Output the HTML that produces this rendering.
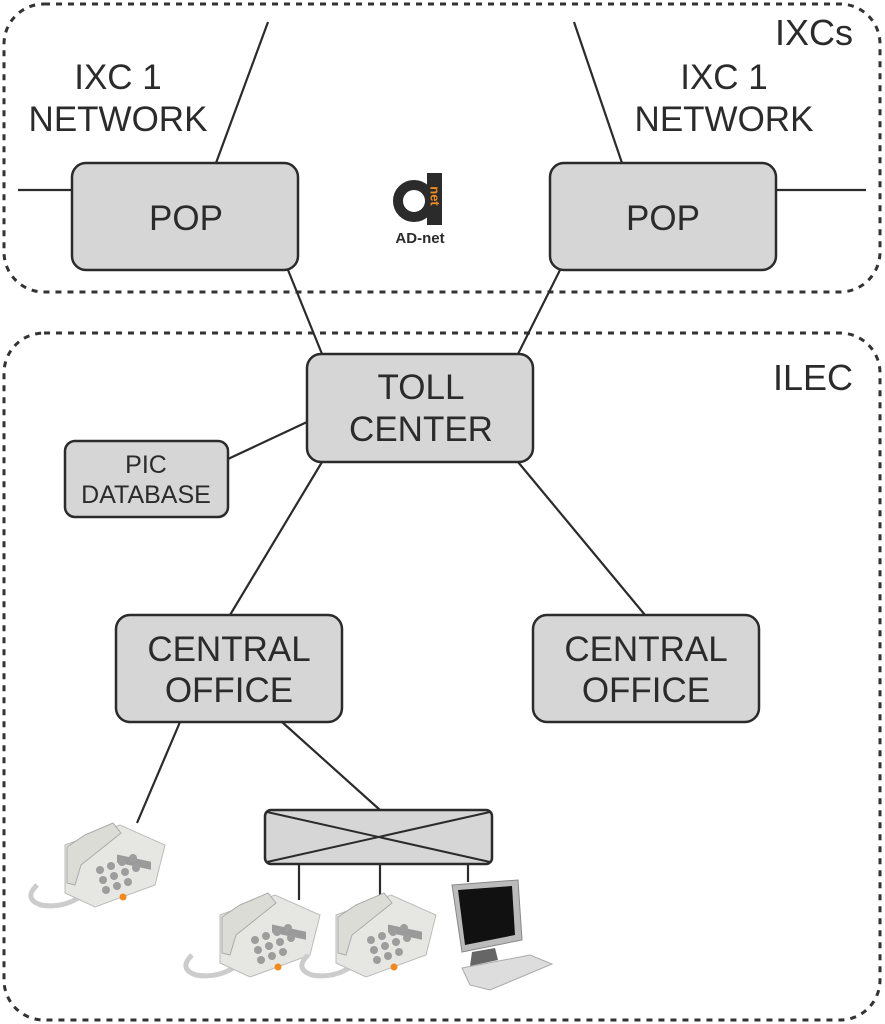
<!DOCTYPE html>
<html><head><meta charset="utf-8"><style>
html,body{margin:0;padding:0;background:#fff}
svg{display:block}
text{font-family:"Liberation Sans",sans-serif;fill:#2b2b2b}
</style></head><body>
<svg width="885" height="1024" viewBox="0 0 885 1024" xmlns="http://www.w3.org/2000/svg">
<defs>
<g id="phone">
 <path d="M12 60 q-14 14 4 20 q22 4 42 -10" fill="none" stroke="#ccc" stroke-width="5"/>
 <path d="M40 20 L95 0 L140 20 L130 60 L70 82 L40 68 Z" fill="#e6e6e2" stroke="#bbb"/>
 <path d="M42 22 L60 10 L88 -2 L96 8 L56 40 L50 60 L42 58 Z" fill="#dcdcd6" stroke="#aaa"/>
 <rect x="92" y="10" width="34" height="8" fill="#9a9a9a" transform="skewY(12)"/>
 <g fill="#9d9d9d">
  <circle cx="75" cy="45" r="4"/><circle cx="86" cy="41" r="4"/><circle cx="97" cy="37" r="4"/><circle cx="108" cy="33" r="4"/>
  <circle cx="78" cy="55" r="4"/><circle cx="89" cy="51" r="4"/><circle cx="100" cy="47" r="4"/><circle cx="111" cy="43" r="4"/>
  <circle cx="81" cy="65" r="4"/><circle cx="92" cy="61" r="4"/><circle cx="103" cy="57" r="4"/>
 </g>
 <circle cx="98" cy="72" r="3.5" fill="#f08a20"/>
</g>
</defs>
<g fill="none" stroke="#333" stroke-width="3" stroke-dasharray="6,6">
 <rect x="4" y="4" width="876" height="288" rx="40"/>
 <rect x="4" y="333" width="876" height="687" rx="40"/>
</g>
<g stroke="#2b2b2b" stroke-width="2.2">
 <line x1="216" y1="163" x2="268" y2="22"/>
 <line x1="18" y1="190" x2="72" y2="190"/>
 <line x1="622" y1="163" x2="574" y2="22"/>
 <line x1="776" y1="190" x2="866" y2="190"/>
 <line x1="288" y1="270" x2="322" y2="354"/>
 <line x1="560" y1="270" x2="518" y2="354"/>
 <line x1="228" y1="459" x2="307" y2="422"/>
 <line x1="322" y1="462" x2="230" y2="615"/>
 <line x1="518" y1="462" x2="645" y2="615"/>
 <line x1="180" y1="722" x2="137" y2="823"/>
 <line x1="282" y1="722" x2="380" y2="810"/>
 <line x1="299" y1="864" x2="299" y2="900"/>
 <line x1="380" y1="864" x2="380" y2="895"/>
 <line x1="468" y1="864" x2="468" y2="882"/>
</g>
<g fill="#d6d6d6" stroke="#2b2b2b" stroke-width="2.5">
 <rect x="72" y="163" width="226" height="107" rx="14"/>
 <rect x="550" y="163" width="226" height="107" rx="14"/>
 <rect x="307" y="354" width="226" height="108" rx="14"/>
 <rect x="65" y="441" width="163" height="76" rx="10"/>
 <rect x="116" y="615" width="226" height="107" rx="14"/>
 <rect x="533" y="615" width="226" height="107" rx="14"/>
 <rect x="265" y="810" width="227" height="54" rx="6"/>
</g>
<g stroke="#2b2b2b" stroke-width="2">
 <line x1="267" y1="812" x2="490" y2="862"/>
 <line x1="490" y1="812" x2="267" y2="862"/>
</g>
<g font-size="35" text-anchor="middle" lengthAdjust="spacingAndGlyphs">
 <text x="186" y="230">POP</text>
 <text x="663" y="230">POP</text>
 <text x="421" y="399">TOLL</text>
 <text x="421" y="441">CENTER</text>
 <text x="229" y="661">CENTRAL</text>
 <text x="229" y="702">OFFICE</text>
 <text x="646" y="661">CENTRAL</text>
 <text x="646" y="702">OFFICE</text>
 <text x="118" y="89">IXC 1</text>
 <text x="118" y="131">NETWORK</text>
 <text x="724" y="89">IXC 1</text>
 <text x="724" y="131">NETWORK</text>
</g>
<g font-size="36" text-anchor="end">
 <text x="853" y="45">IXCs</text>
 <text x="853" y="390">ILEC</text>
</g>
<g font-size="25" text-anchor="middle">
 <text x="146" y="473">PIC</text>
 <text x="146" y="503">DATABASE</text>
</g>
<!-- logo -->
<circle cx="414" cy="201" r="16" fill="none" stroke="#2b2b2b" stroke-width="10"/>
<rect x="427" y="173" width="15" height="52" fill="#2b2b2b"/>
<text x="435" y="196" font-size="13" font-weight="bold" style="fill:#f08a20" transform="rotate(90 435 196)" text-anchor="middle" dominant-baseline="central">net</text>
<text x="420" y="243" font-size="15" font-weight="bold" text-anchor="middle">AD-net</text>
<!-- phones -->
<use href="#phone" x="25" y="825"/>
<use href="#phone" x="180" y="895"/>
<use href="#phone" x="296" y="895"/>
<!-- monitor -->
<path d="M452 885 L518 880 L522 940 L462 952 Z" fill="#bbb" stroke="#888"/>
<path d="M458 890 L512 886 L515 935 L465 945 Z" fill="#111"/>
<path d="M472 952 L495 948 L498 960 L470 966 Z" fill="#666"/>
<path d="M462 968 L530 955 L552 964 L490 990 L470 985 Z" fill="#ddd" stroke="#aaa"/>
</svg>
</body></html>
